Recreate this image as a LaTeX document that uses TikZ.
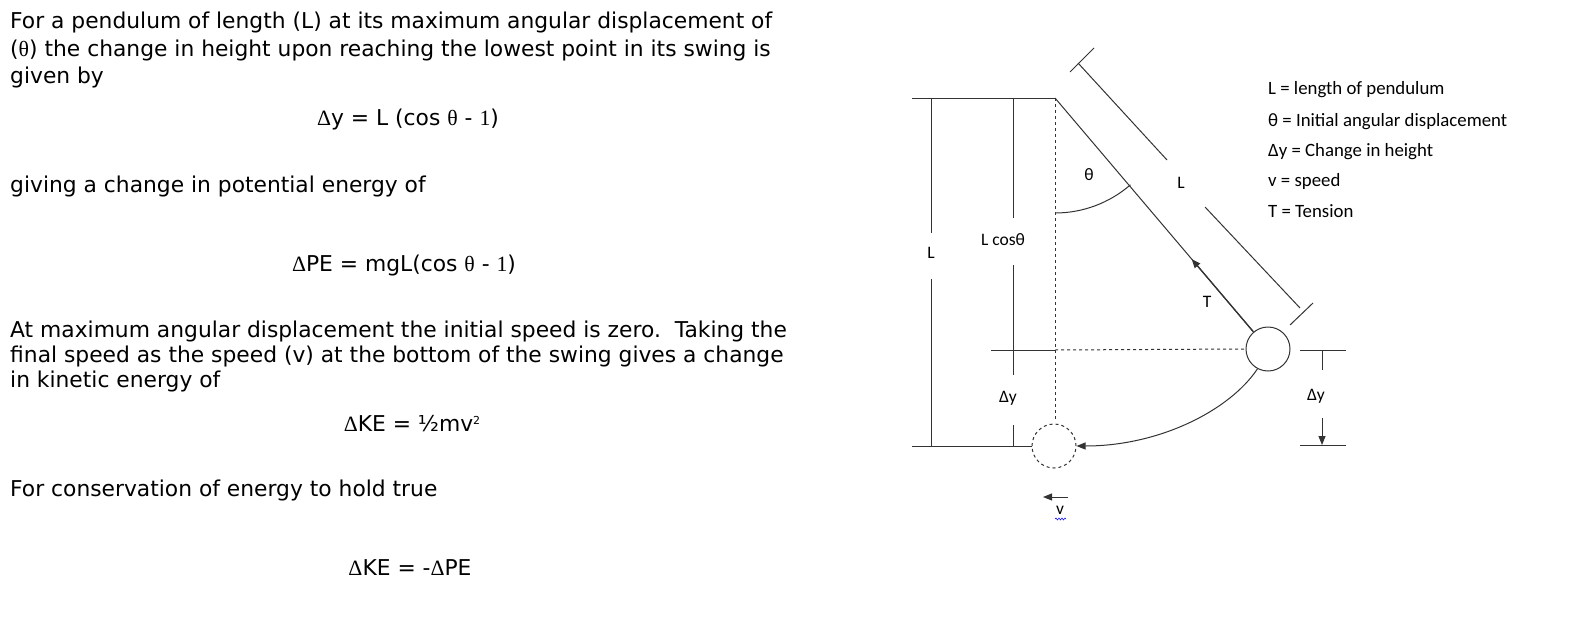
\documentclass[tikz,border=0pt]{standalone}
\usepackage{fontspec}
\setmainfont{DejaVu Sans}
\newfontfamily\carl{Carlito}
\newfontfamily\symf{Liberation Serif}
\usetikzlibrary{arrows.meta,decorations.pathmorphing,calc}
\begin{document}
\begin{tikzpicture}[x=1pt,y=-1pt,
  txt/.style={anchor=west,inner sep=0pt,font=\fontsize{21.8}{26}\selectfont},
  eq/.style={inner sep=0pt,font=\fontsize{21.8}{26}\selectfont},
  lab/.style={inner sep=1pt,font=\carl\fontsize{17.5}{18}\selectfont},
  leg/.style={anchor=west,inner sep=0pt,font=\carl\fontsize{18.8}{20}\selectfont},
  ln/.style={line width=1pt,draw=black!80},
  arr/.style={ln,-{Triangle[length=9pt,width=7pt]}}]
\useasboundingbox (0,0) rectangle (1595,629);
% left text
\node[txt] (t1) at (10,22) {For a pendulum of length (L) at its maximum angular displacement of};
\node[txt] (t2) at (10,50) {({\symf θ}) the change in height upon reaching the lowest point in its swing is};
\node[txt] (t3) at (10,77) {given by};
\node[eq] (e1) at (408,119) {{\symf Δ}y = L (cos {\symf θ} - {\symf 1})};
\node[txt] (t4) at (10,186) {giving a change in potential energy of};
\node[eq] (e2) at (404,265) {{\symf Δ}PE = mgL(cos {\symf θ} - {\symf 1})};
\node[txt] (t5) at (10,331) {At maximum angular displacement the initial speed is zero.\ \ Taking the};
\node[txt] (t6) at (10,356) {final speed as the speed (v) at the bottom of the swing gives a change};
\node[txt] (t7) at (10,381) {in kinetic energy of};
\node[eq] (e3) at (412,424) {{\symf Δ}KE = ½mv\raisebox{0.6ex}{\fontsize{11}{11}\selectfont 2}};
\node[txt] (t8) at (10,490) {For conservation of energy to hold true};
\node[eq] (e4) at (410,568) {{\symf Δ}KE = -{\symf Δ}PE};
% legend
\node[leg] (g1) at (1268,90) {L = length of pendulum};
\node[leg] (g2) at (1268,122) {θ = Initial angular displacement};
\node[leg] (g3) at (1268,152) {Δy = Change in height};
\node[leg] (g4) at (1268,181) {v = speed};
\node[leg] (g5) at (1268,211) {T = Tension};
% geometry
\coordinate (P) at (1055,98);
\node[circle,draw=black!80,line width=1pt,minimum size=44pt,inner sep=0pt] (ball) at (1268,349) {};
\node[circle,draw=black!80,line width=1pt,dashed,minimum size=44pt,inner sep=0pt] (low) at (1054,446) {};
\draw[ln] (912,98) -- (P);
\draw[ln] (912,446) -- (low.west);
\draw[ln] (P) -- (ball);
\draw[ln,dashed] (P) -- (1055,421);
\draw[ln] (991,350) -- (1055,350);
\draw[ln,dashed] (1055,350) -- (ball.west);
% L left
\node[lab] (Ll) at (931,253) {L};
\draw[ln] (931,98) -- (931,233); \draw[ln] (931,279) -- (931,446);
% L cos
\node[lab] (Lc) at (1003,240) {L cosθ};
\draw[ln] (1013,98) -- (1013,218); \draw[ln] (1013,265) -- (1013,375);
\node[lab] (dy1) at (1008,398) {Δy};
\draw[ln] (1013,425) -- (1013,446);
% theta arc
\draw[ln] (1055,213) arc[start angle=90,end angle=49,radius=115];
\node[lab] (th) at (1089,175) {θ};
% L dimension
\draw[ln] (1078,63) -- (1167,160);
\draw[ln] (1205,207) -- (1300,308);
\draw[ln] (1070,72) -- (1094,48);
\draw[ln] (1290,325) -- (1313,303);
\node[lab] (Ld) at (1181,183) {L};
% T
\draw[arr,line width=1.3pt] ($(ball)!23pt!(P)$) -- ($(ball)!118pt!(P)$);
\node[lab] (T) at (1207,302) {T};
% right dy
\draw[ln] (1300,350) -- (1346,350);
\draw[ln] (1322,350) -- (1322,370);
\node[lab] (dy2) at (1316,396) {Δy};
\draw[arr] (1322,418) -- (1322,445);
\draw[ln] (1300,445) -- (1346,445);
% swing arc
\draw[arr] (ball.242) .. controls (1230,410) and (1160,446) .. (low.east);
% v
\draw[ln,-{Triangle[length=9pt,width=7pt]}] (1068,497) -- (1043,497);
\node[lab] (v) at (1060,510) {v};
\draw[blue,line width=0.5pt,decorate,decoration={snake,amplitude=1pt,segment length=3pt}] (1055,519) -- (1066,519);
\end{tikzpicture}
\end{document}
